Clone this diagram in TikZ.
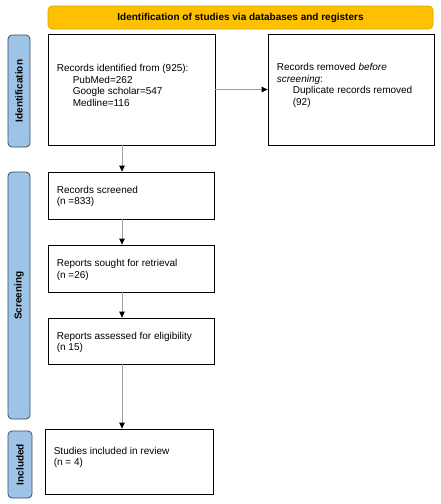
\documentclass[tikz,border=0pt]{standalone}
\usepackage{fontspec}
\setmainfont{Liberation Sans}
\usetikzlibrary{arrows.meta}
\definecolor{gold}{HTML}{FFC000}
\definecolor{goldedge}{HTML}{D9A400}
\definecolor{sideblue}{HTML}{9DC3E6}
\definecolor{sideedge}{HTML}{3F4A5C}
\definecolor{linegray}{HTML}{A0A0A0}
\tikzset{
  box/.style={draw=black, line width=0.8pt, inner sep=0pt},
  banner/.style={draw=goldedge, fill=gold, rounded corners=4pt, line width=0.6pt, inner sep=0pt,
                 font=\fontsize{10}{12}\selectfont\bfseries},
  side/.style={draw=sideedge, fill=sideblue, rounded corners=4pt, line width=0.8pt, inner sep=0pt},
  sidelabel/.style={rotate=90, font=\fontsize{10}{12}\selectfont\bfseries},
  txt/.style={align=left, inner sep=0pt, anchor=west, font=\fontsize{10}{11.7}\selectfont},
  flow/.style={draw=linegray, line width=0.8pt, -{Triangle[black, length=6pt, width=5.5pt]}}
}
\begin{document}
\begin{tikzpicture}[x=1pt, y=-1pt]
\useasboundingbox (0,0) rectangle (441,504);
% banner
\node[banner, minimum width=385pt, minimum height=23pt] (ban) at (240.5,17.5)
  {Identification of studies via databases and registers};
% side boxes
\node[side, minimum width=22pt, minimum height=112pt] (sid) at (19,91) {};
\node[sidelabel] (sidl) at (sid.center) {Identification};
\node[side, minimum width=22pt, minimum height=247pt] (ssc) at (19,295.5) {};
\node[sidelabel] (sscl) at (ssc.center) {Screening};
\node[side, minimum width=24pt, minimum height=67pt] (sin) at (20,464.5) {};
\node[sidelabel] (sinl) at (sin.center) {Included};
% boxes
\node[box, minimum width=167pt, minimum height=111pt] (b1) at (131.5,89.5) {};
\node[box, minimum width=166pt, minimum height=111pt] (b2) at (351,89.5) {};
\node[box, minimum width=166pt, minimum height=47pt] (b3) at (131,195.5) {};
\node[box, minimum width=166pt, minimum height=47pt] (b4) at (131,268.5) {};
\node[box, minimum width=166pt, minimum height=46pt] (b5) at (131,341) {};
\node[box, minimum width=168pt, minimum height=65pt] (b6) at (129,461.5) {};
% texts
\node[txt] (t1) at ([xshift=9pt,yshift=4pt]b1.west)
  {Records identified from (925):\\
   \hspace*{16pt}PubMed=262\\
   \hspace*{16pt}Google scholar=547\\
   \hspace*{16pt}Medline=116};
\node[txt] (t2) at ([xshift=9pt,yshift=4pt]b2.west)
  {Records removed \textit{before}\\
   \textit{screening}:\\
   \hspace*{16pt}Duplicate records removed\\
   \hspace*{16pt}(92)};
\node[txt] (t3) at ([xshift=9pt,yshift=-1pt]b3.west) {Records screened\\(n =833)};
\node[txt] (t4) at ([xshift=9pt,yshift=-1.5pt]b4.west) {Reports sought for retrieval\\(n =26)};
\node[txt] (t5) at ([xshift=9pt,yshift=-1.5pt]b5.west) {Reports assessed for eligibility\\(n 15)};
\node[txt] (t6) at ([xshift=9pt,yshift=4pt]b6.west) {Studies included in review\\(n = 4)};
% connectors
\coordinate (col) at (122,0);
\draw[flow] (b1.east) -- (b2.west);
\draw[flow] (b1.south -| col) -- (b3.north -| col);
\draw[flow] (b3.south -| col) -- (b4.north -| col);
\draw[flow] (b4.south -| col) -- (b5.north -| col);
\draw[flow] (b5.south -| col) -- (b6.north -| col);
\end{tikzpicture}
\end{document}
